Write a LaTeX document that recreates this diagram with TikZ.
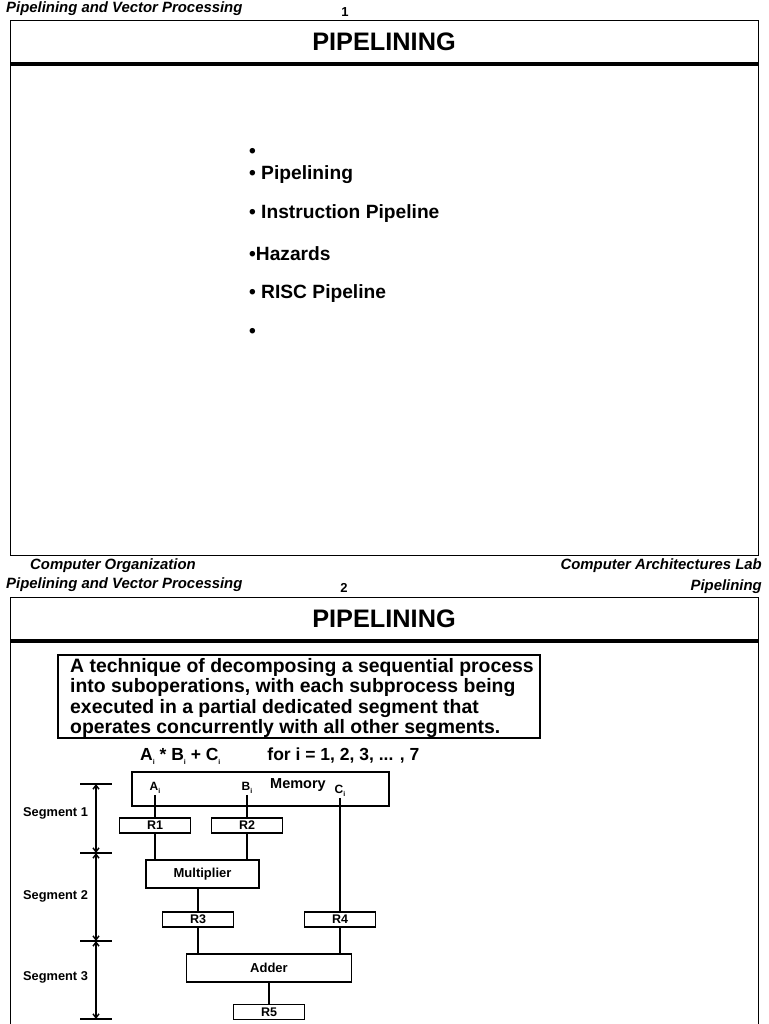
\documentclass[tikz,border=0pt]{standalone}
\usepackage{fontspec}
\setmainfont{Liberation Sans}
\usetikzlibrary{arrows.meta}
\newcommand{\lowi}{\raisebox{-0.45ex}{\fontsize{7}{7}\selectfont i}}

\begin{document}
\begin{tikzpicture}[x=1pt,y=1pt,yscale=-1,
  hdr/.style={inner sep=0pt,font=\fontsize{14.9}{17}\selectfont\bfseries\itshape},
  pgno/.style={inner sep=0pt,font=\fontsize{13}{15}\selectfont\bfseries},
  ttl/.style={inner sep=0pt,font=\fontsize{25.3}{28}\selectfont\bfseries},
  itm/.style={anchor=west,inner sep=0pt,font=\fontsize{19.2}{22}\selectfont\bfseries},
  unit/.style={draw,line width=1.4pt,inner sep=0pt,font=\fontsize{13}{15}\selectfont\bfseries},
  reg/.style={unit,minimum width=71pt,minimum height=15pt,font=\fontsize{12.5}{14}\selectfont\bfseries},
  lbl/.style={inner sep=1pt,font=\fontsize{12}{14}\selectfont\bfseries},
  seg/.style={anchor=west,inner sep=0pt,font=\fontsize{12.8}{14}\selectfont\bfseries},
  wire/.style={line width=1.4pt},
  span/.style={line width=1.4pt,{Straight Barb[length=4pt,width=6pt]}-{Straight Barb[length=4pt,width=6pt]}}]
\useasboundingbox (0,0) rectangle (768,1024);
\fill[white] (0,0) rectangle (768,1024);
% slide 1
\node[hdr,anchor=west] (hd1) at (6,9) {Pipelining and Vector Processing};
\node[pgno] (pg1) at (345,12) {1};
\draw (10,20) rectangle (758,555);
\node[ttl] (tt1) at (384,42) {PIPELINING};
\draw[line width=3.5pt] (10,64) -- (758,64);
\foreach \y/\txt [count=\i] in {153/{•}, 175/{• Pipelining}, 214/{• Instruction Pipeline},
    254/{•Hazards}, 294/{• RISC Pipeline}, 333/{•}}
  \node[itm] (itm\i) at (249,\y) {\txt};
% footer and header of slide 2
\node[hdr,anchor=west] (ft1) at (30,566) {Computer Organization};
\node[hdr,anchor=east] (ft2) at (762,566) {Computer Architectures Lab};
\node[hdr,anchor=west] (hd2) at (6,585) {Pipelining and Vector Processing};
\node[pgno] (pg2) at (344,588) {2};
\node[hdr,anchor=east] (hd3) at (762,587) {Pipelining};
% slide 2
\draw (10,1024) -- (10,597) -- (758,597) -- (758,1024);
\node[ttl] (tt2) at (384,619) {PIPELINING};
\draw[line width=3.5pt] (10,641) -- (758,641);
\draw[line width=1.8pt] (58,655) rectangle (540,738);
\node[anchor=north west,inner sep=0pt,align=left,font=\fontsize{19.4}{20.5}\selectfont\bfseries] (def) at (70,658)
  {A technique of decomposing a sequential process\\into suboperations, with each subprocess being\\executed in a partial dedicated segment that\\operates concurrently with all other segments.};
\node[anchor=west,inner sep=0pt,font=\fontsize{17.5}{20}\selectfont\bfseries] (eq) at (140,756)
  {A\lowi{} * B\lowi{} + C\lowi\hspace{47pt}for i = 1, 2, 3, ... , 7};
% pipeline
\node[unit,minimum width=257pt,minimum height=34pt] (mem) at (260.5,789) {};
\node[lbl,font=\fontsize{14.5}{16}\selectfont\bfseries] (meml) at (298,785) {Memory};
\node[lbl] (ai) at (155,788) {A\lowi};
\node[lbl] (bi) at (247,788) {B\lowi};
\node[lbl] (ci) at (340,791) {C\lowi};
\node[reg] (r1) at (155,825.5) {R1};
\node[reg] (r2) at (247,825.5) {R2};
\node[unit,minimum width=113pt,minimum height=28pt] (mul) at (202.5,874) {Multiplier};
\node[reg] (r3) at (198,919.5) {R3};
\node[reg] (r4) at (340,919.5) {R4};
\node[unit,minimum width=165pt,minimum height=28pt] (add) at (269,968) {Adder};
\node[reg] (r5) at (269,1012) {R5};
\draw[wire] (ai.south) -- (r1.north);
\draw[wire] (bi.south) -- (r2.north);
\draw[wire] (ci.south) -- (r4.north);
\draw[wire] (r1.south) -- (r1.south |- mul.north);
\draw[wire] (r2.south) -- (r2.south |- mul.north);
\draw[wire] (r3.north |- mul.south) -- (r3.north);
\draw[wire] (r3.south) -- (r3.south |- add.north);
\draw[wire] (r4.south) -- (r4.south |- add.north);
\draw[wire] (add.south) -- (r5.north);
% segments
\foreach \y [count=\i from 0] in {784,853,941,1019} {
  \coordinate (s\i) at (96,\y);
  \draw[wire] ([xshift=-16pt]s\i) -- ([xshift=16pt]s\i);
}
\foreach \a/\b in {0/1,1/2,2/3}
  \draw[span] (s\a) -- (s\b);
\node[seg] (sg1) at (23,813) {Segment 1};
\node[seg] (sg2) at (23,896) {Segment 2};
\node[seg] (sg3) at (23,977) {Segment 3};
\end{tikzpicture}
\end{document}
